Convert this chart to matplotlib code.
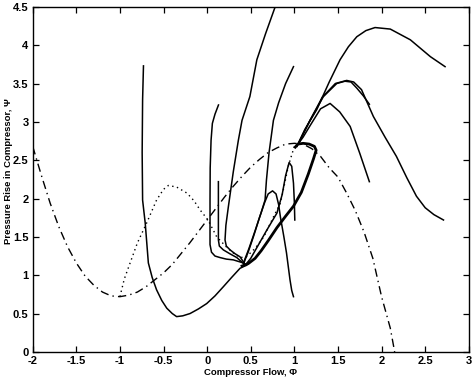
import matplotlib
matplotlib.use("Agg")
import matplotlib.pyplot as plt

plt.rcParams['font.family'] = ['Liberation Sans', 'DejaVu Sans']

# Compressor characteristic (dash-dot)
char_phi = [-2.0, -1.9, -1.8, -1.7, -1.6, -1.5, -1.4, -1.3, -1.2, -1.1, -1.0, -0.9, -0.8, -0.7, -0.6,
            -0.5, -0.4, -0.3, -0.2, -0.1, 0.0, 0.1, 0.2, 0.3, 0.4, 0.5, 0.6, 0.7, 0.8, 0.9, 1.0,
            1.1, 1.2, 1.3, 1.4, 1.5, 1.6, 1.7, 1.8, 1.9, 2.0, 2.1, 2.15]
char_psi = [2.68, 2.30, 1.94, 1.63, 1.37, 1.16, 0.99, 0.87, 0.78, 0.73, 0.72, 0.74, 0.78, 0.85, 0.94,
            1.03, 1.14, 1.28, 1.42, 1.57, 1.72, 1.87, 2.02, 2.16, 2.29, 2.41, 2.51, 2.60, 2.66, 2.71, 2.72,
            2.71, 2.65, 2.55, 2.40, 2.28, 2.07, 1.84, 1.56, 1.22, 0.72, 0.31, 0.0]

# Stall branch (dotted)
stall_phi = [-1.0, -0.95, -0.88, -0.8, -0.69, -0.58, -0.5, -0.445, -0.35, -0.23, -0.15, -0.08, 0.01,
             0.11, 0.22, 0.3, 0.38, 0.45, 0.55, 0.65, 0.76, 0.84, 0.89, 0.93, 0.97, 1.0]
stall_psi = [0.72, 0.95, 1.17, 1.42, 1.69, 1.98, 2.12, 2.17, 2.15, 2.07, 1.97, 1.85, 1.72,
             1.50, 1.37, 1.29, 1.23, 1.24, 1.35, 1.50, 1.76, 1.94, 2.2, 2.42, 2.57, 2.68]

# Limit cycle (thick)
cycle_phi = [0.40, 0.47, 0.55, 0.62, 0.70, 0.80, 0.90, 0.99, 1.08, 1.16, 1.22, 1.25, 1.23, 1.17, 1.10, 1.04, 1.01]
cycle_psi = [1.12, 1.15, 1.22, 1.32, 1.45, 1.62, 1.77, 1.90, 2.08, 2.32, 2.52, 2.63, 2.68, 2.71, 2.72, 2.71, 2.67]

# Trajectories (thin solid)
trajA_phi = [-0.73, -0.74, -0.745, -0.74, -0.71, -0.674, -0.63, -0.58, -0.52, -0.463, -0.40, -0.35, -0.28,
             -0.196, -0.10, -0.005, 0.09, 0.186, 0.28, 0.377, 0.45]
trajA_psi = [3.73, 3.29, 2.6, 1.98, 1.68, 1.16, 0.97, 0.81, 0.67, 0.57, 0.50, 0.46, 0.47,
             0.50, 0.56, 0.63, 0.73, 0.85, 0.97, 1.09, 1.13]

trajB_phi = [0.78, 0.67, 0.57, 0.49, 0.40, 0.358, 0.30, 0.243, 0.215, 0.205, 0.22, 0.263, 0.32, 0.377, 0.43]
trajB_psi = [4.50, 4.15, 3.81, 3.33, 3.02, 2.76, 2.35, 1.89, 1.65, 1.46, 1.38, 1.33, 1.28, 1.24, 1.15]

trajC_phi = [0.13, 0.09, 0.06, 0.045, 0.035, 0.033, 0.033, 0.05, 0.09, 0.148, 0.22, 0.30, 0.415, 0.45]
trajC_psi = [3.22, 3.10, 2.98, 2.76, 2.40, 1.98, 1.40, 1.30, 1.25, 1.23, 1.21, 1.20, 1.16, 1.13]

trajE_phi = [0.129, 0.129, 0.129, 0.14, 0.186, 0.26, 0.34, 0.42]
trajE_psi = [2.22, 1.80, 1.46, 1.38, 1.33, 1.28, 1.23, 1.15]

trajD_phi = [0.99, 0.90, 0.82, 0.76, 0.71, 0.68, 0.664, 0.62, 0.55, 0.48, 0.43, 0.42]
trajD_psi = [3.72, 3.50, 3.25, 3.02, 2.60, 2.24, 1.98, 1.82, 1.58, 1.35, 1.20, 1.13]

trajF_phi = [0.42, 0.47, 0.53, 0.60, 0.66, 0.70, 0.75, 0.79, 0.82, 0.84, 0.88, 0.91, 0.95, 0.97, 0.99]
trajF_psi = [1.16, 1.30, 1.50, 1.75, 1.95, 2.06, 2.10, 2.06, 1.92, 1.76, 1.50, 1.29, 0.94, 0.80, 0.72]

trajG_phi = [0.45, 0.50, 0.58, 0.68, 0.80, 0.86, 0.90, 0.94, 0.97, 0.99, 1.0, 1.005]
trajG_psi = [1.15, 1.22, 1.38, 1.58, 1.81, 2.05, 2.30, 2.47, 2.42, 2.20, 1.95, 1.72]

trajH_phi = [1.03, 1.12, 1.257, 1.40, 1.524, 1.62, 1.716, 1.82, 1.925, 2.10, 2.33, 2.56, 2.728]
trajH_psi = [2.68, 2.90, 3.16, 3.52, 3.81, 3.98, 4.11, 4.19, 4.23, 4.21, 4.07, 3.85, 3.72]

trajI_phi = [1.05, 1.18, 1.333, 1.486, 1.58, 1.65, 1.716, 1.79, 1.86]
trajI_psi = [2.72, 3.02, 3.33, 3.50, 3.53, 3.52, 3.44, 3.34, 3.23]

trajJ_phi = [1.04, 1.17, 1.32, 1.47, 1.60, 1.68, 1.77, 1.906, 2.04, 2.17, 2.29, 2.40, 2.50, 2.60, 2.71]
trajJ_psi = [2.71, 3.00, 3.32, 3.50, 3.54, 3.52, 3.42, 3.07, 2.80, 2.55, 2.27, 2.03, 1.88, 1.79, 1.72]

trajK_phi = [1.03, 1.10, 1.18, 1.30, 1.41, 1.52, 1.64, 1.75, 1.86]
trajK_psi = [2.69, 2.80, 2.95, 3.17, 3.24, 3.13, 2.94, 2.59, 2.22]

x_ticks = [-2, -1.5, -1, -0.5, 0, 0.5, 1, 1.5, 2, 2.5, 3]
x_tick_labels = ['-2', '-1.5', '-1', '-0.5', '0', '0.5', '1', '1.5', '2', '2.5', '3']
y_ticks = [0, 0.5, 1, 1.5, 2, 2.5, 3, 3.5, 4, 4.5]
y_tick_labels = ['0', '0.5', '1', '1.5', '2', '2.5', '3', '3.5', '4', '4.5']

fig = plt.figure(figsize=(4.74, 3.80), dpi=100)
ax = fig.add_axes([0.069, 0.074, 0.920, 0.908])

ax.plot(char_phi, char_psi, color='black', lw=1.0, linestyle=(0, (6, 3, 1, 3)))
ax.plot(stall_phi, stall_psi, color='black', lw=1.0, linestyle=(0, (1, 2.5)))

thin = [(trajA_phi, trajA_psi), (trajB_phi, trajB_psi), (trajC_phi, trajC_psi), (trajE_phi, trajE_psi),
        (trajD_phi, trajD_psi), (trajF_phi, trajF_psi), (trajG_phi, trajG_psi), (trajH_phi, trajH_psi),
        (trajI_phi, trajI_psi), (trajJ_phi, trajJ_psi), (trajK_phi, trajK_psi)]
for px, py in thin:
    ax.plot(px, py, color='black', lw=1.1)
ax.plot(cycle_phi, cycle_psi, color='black', lw=2.0)

ax.set_xlim(-2, 3)
ax.set_ylim(0, 4.5)
ax.set_xticks(x_ticks)
ax.set_xticklabels(x_tick_labels)
ax.set_yticks(y_ticks)
ax.set_yticklabels(y_tick_labels)
ax.tick_params(direction='in', top=True, right=True, length=4, width=0.9, labelsize=8.0)
ax.tick_params(axis='x', pad=3)
ax.tick_params(axis='y', pad=3)
for lab in ax.get_xticklabels() + ax.get_yticklabels():
    lab.set_fontweight('bold')
for s in ax.spines.values():
    s.set_linewidth(1.0)

ax.set_xlabel('Compressor Flow, Φ', fontsize=6.8, fontweight='bold')
ax.set_ylabel('Pressure Rise in Compressor, Ψ', fontsize=6.8, fontweight='bold')
ax.xaxis.set_label_coords(0.5, -0.046)
ax.xaxis.label.set_verticalalignment('top')
ax.yaxis.set_label_coords(-0.045, 0.523)

fig.savefig('out.png', dpi=100)
